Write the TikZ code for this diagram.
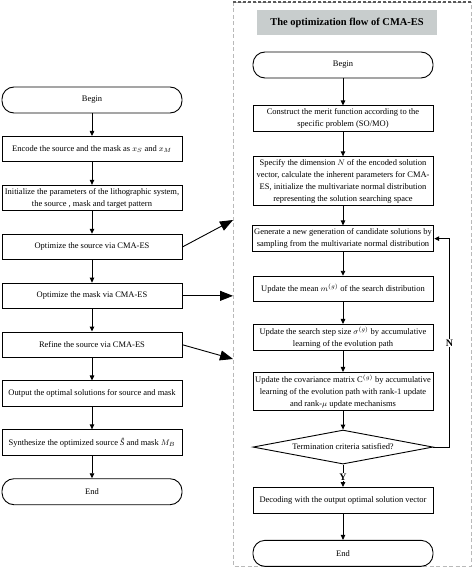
\documentclass[tikz,border=0pt]{standalone}
\usepackage{fontspec}
\setmainfont{Liberation Serif}
\usepackage{tikz}
\usetikzlibrary{arrows.meta,positioning,shapes.geometric}
\definecolor{titlegray}{RGB}{200,205,205}
\tikzset{
  stagebox/.style={draw=black, line width=0.9bp, minimum width=180bp,
    minimum height=25.5bp, inner xsep=2bp, inner ysep=2.5bp, align=center,
    font=\fontsize{8.5}{12}\selectfont},
  termin/.style={stagebox, rounded corners=12bp, minimum height=26bp},
  decide/.style={draw=black, line width=0.9bp, diamond, aspect=5.3,
    inner sep=0pt, minimum width=180bp, minimum height=34bp,
    font=\fontsize{8.5}{12}\selectfont},
  heading/.style={fill=titlegray, minimum width=180bp, minimum height=25bp,
    font=\fontsize{10.5}{12}\selectfont\bfseries},
  lbl/.style={font=\fontsize{10}{12}\selectfont\bfseries, fill=white, inner sep=1bp},
  flow/.style={-{Triangle[length=5bp,width=4.5bp]}, line width=0.9bp},
  bigflow/.style={-{Triangle[length=13bp,width=10bp]}, line width=0.9bp},
  framebox/.style={gray!55, line width=0.8bp, dash pattern=on 4bp off 2.5bp}
}

\begin{document}
\begin{tikzpicture}[x=1bp, y=-1bp, node distance=22.5bp]
  \useasboundingbox (0,0) rectangle (474,569);

  % left: lithography flow
  \node[termin] (lbegin) at (92,100) {Begin};
  \node[stagebox, below=of lbegin] (encode) {Encode the source and the mask as $x_S$ and $x_M$};
  \node[stagebox, below=of encode] (init)
    {Initialize the parameters of the lithographic system,\\the source , mask and target pattern};
  \node[stagebox, below=of init] (optsrc) {Optimize the source via CMA-ES};
  \node[stagebox, below=of optsrc] (optmask) {Optimize the mask via CMA-ES};
  \node[stagebox, below=of optmask] (refine) {Refine the source via CMA-ES};
  \node[stagebox, below=of refine] (output) {Output the optimal solutions for source and mask};
  \node[stagebox, below=of output] (synth) {Synthesize the optimized source \textit{Ŝ} and mask $M_B$};
  \node[termin, below=of synth] (lend) {End};
  \draw[flow] (lbegin) -- (encode);
  \draw[flow] (encode) -- (init);
  \draw[flow] (init) -- (optsrc);
  \draw[flow] (optsrc) -- (optmask);
  \draw[flow] (optmask) -- (refine);
  \draw[flow] (refine) -- (output);
  \draw[flow] (output) -- (synth);
  \draw[flow] (synth) -- (lend);

  % right: CMA-ES flow
  \draw[framebox] (233,2) rectangle (471,566);
  \draw[black!65, line width=1.4bp, dash pattern=on 3bp off 2bp] (233,2) -- (471,2);
  \node[heading] (title) at (347,22.5) {The optimization flow of CMA-ES};
  \node[termin] (rbegin) at (343,65) {Begin};
  \node[stagebox, below=27bp of rbegin] (merit)
    {Construct the merit function according to the\\specific problem (SO/MO)};
  \node[stagebox, below=24.5bp of merit] (specify)
    {Specify the dimension $N$ of the encoded solution\\vector, calculate the inherent parameters for CMA-\\ES, initialize the multivariate normal distribution\\representing the solution searching space};
  \node[stagebox, below=19.5bp of specify] (sample)
    {Generate a new generation of candidate solutions by\\sampling from the multivariate normal distribution};
  \node[stagebox, below=24bp of sample] (mean) {Update the mean $m^{(g)}$ of the search distribution};
  \node[stagebox, below=21.75bp of mean] (stepsz)
    {Update the search step size $\sigma^{(g)}$ by accumulative\\learning of the evolution path};
  \node[stagebox, below=21bp of stepsz] (covar)
    {Update the covariance matrix C$^{(g)}$ by accumulative\\learning of the evolution path with rank-1 update\\and rank-$\mu$ update mechanisms};
  \node[decide, below=18.75bp of covar] (term) {Termination criteria satisfied?};
  \node[stagebox, below=22.5bp of term] (decode) {Decoding with the output optimal solution vector};
  \node[termin, below=26.5bp of decode] (rend) {End};
  \draw[flow] (rbegin) -- (merit);
  \draw[flow] (merit) -- (specify);
  \draw[flow] (specify) -- (sample);
  \draw[flow] (sample) -- (mean);
  \draw[flow] (mean) -- (stepsz);
  \draw[flow] (stepsz) -- (covar);
  \draw[flow] (covar) -- (term);
  \draw[flow] (term) -- node[lbl, pos=0.55]{Y} (decode);
  \draw[flow] (decode) -- (rend);
  \draw[flow] (term.east) -- ++(16,0) |- node[lbl, pos=0.25]{N} (sample.east);

  % links into the CMA-ES frame
  \coordinate (srcin) at (233,220);
  \coordinate (refin) at (233,359);
  \draw[bigflow] (optsrc.east) -- (srcin);
  \draw[bigflow] (optmask.east) -- (optmask.east -| srcin);
  \draw[bigflow] (refine.east) -- (refin);
\end{tikzpicture}
\end{document}
